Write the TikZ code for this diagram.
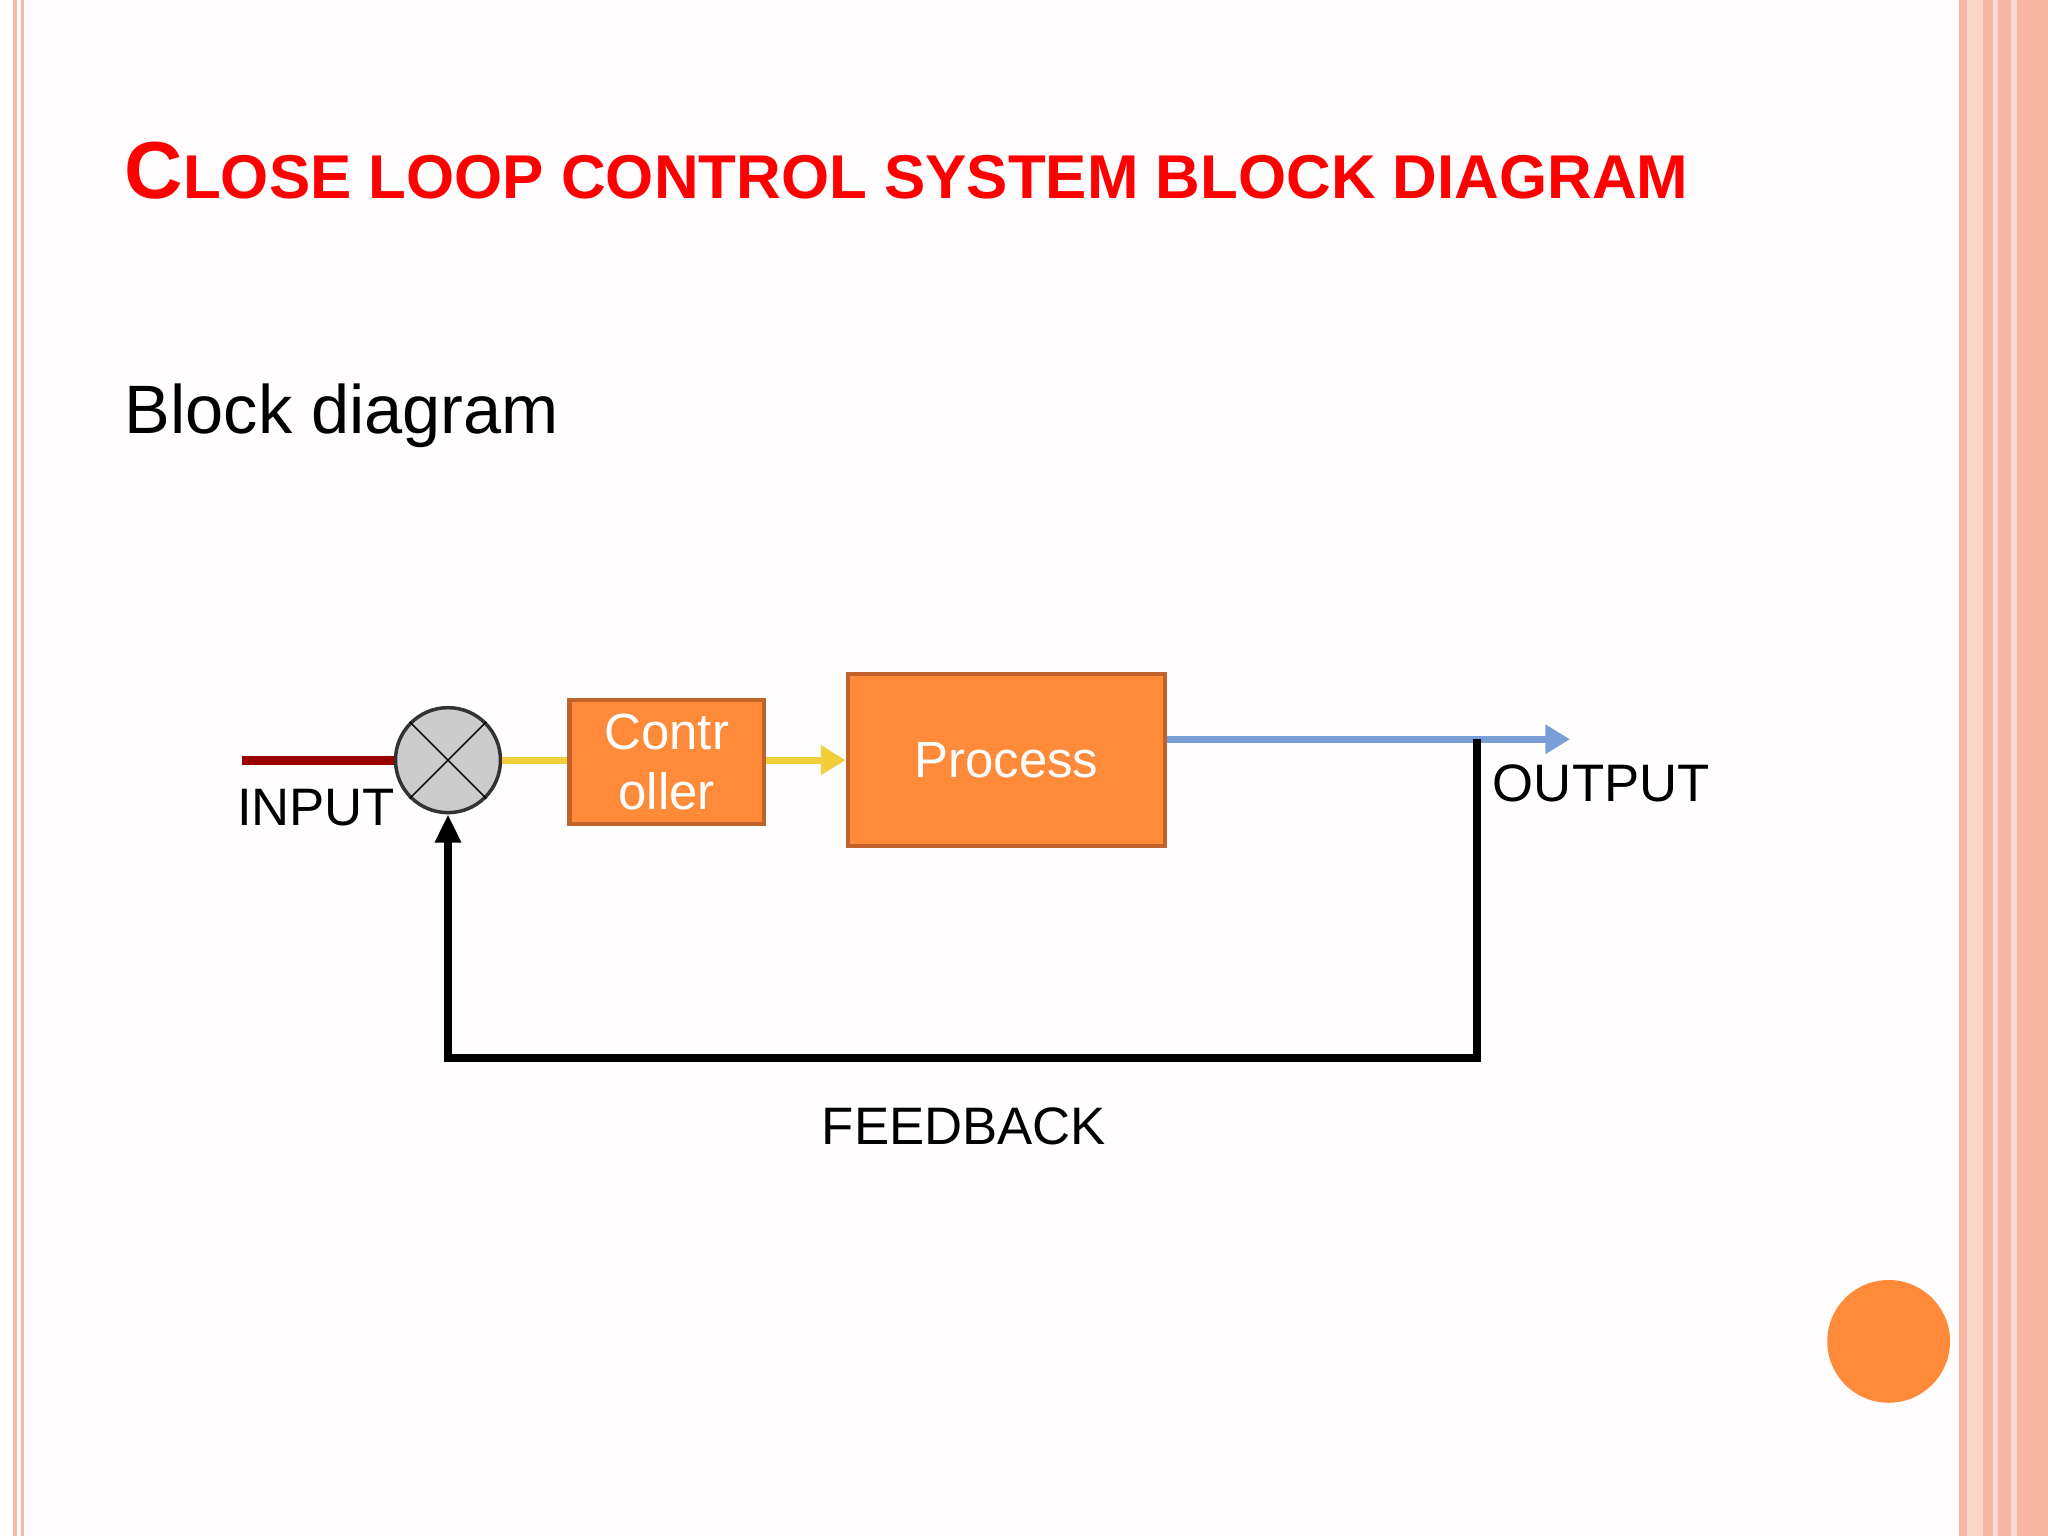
\documentclass[tikz,border=0pt]{standalone}
\usepackage{fontspec}
\setmainfont{Liberation Sans}
\usetikzlibrary{arrows.meta}
\definecolor{org}{HTML}{FF8A3A}
\definecolor{orgb}{HTML}{C0622A}
\definecolor{pinkl}{HTML}{F7B7A3}
\definecolor{bl}{HTML}{7A9ED8}
\definecolor{yl}{HTML}{F2CF3A}
\begin{document}
\begin{tikzpicture}[x=0.013061cm,y=-0.013061cm,
  blk/.style={draw=orgb,line width=1.2pt,fill=org,text=white,align=center,font=\fontsize{14.5}{17}\selectfont,inner sep=0pt},
  lbl/.style={font=\fontsize{15}{18}\selectfont}]
\useasboundingbox (0,0) rectangle (1568,1176);
\fill[white!97!pink] (0,0) rectangle (1568,1176);
\fill[pinkl] (10,0) rectangle (13,1176);
\fill[pinkl] (16,0) rectangle (18,1176);
\fill[pinkl] (1500,0) rectangle (1506,1176);
\fill[pinkl!60] (1506,0) rectangle (1518,1176);
\fill[pinkl] (1518,0) rectangle (1568,1176);
\fill[pinkl!50] (1526,0) rectangle (1530,1176);
\fill[pinkl!50] (1540,0) rectangle (1544,1176);
\node[anchor=base west,text=red,font=\bfseries,inner sep=0] (title) at (95,152)
 {{\fontsize{23}{26}\selectfont C}{\fontsize{17.6}{20}\selectfont LOSE LOOP CONTROL SYSTEM BLOCK DIAGRAM}};
\node[anchor=base west,inner sep=0,font=\fontsize{19.5}{22}\selectfont] (bd) at (95,332) {Block diagram};
\node[circle,draw=black!80,fill=gray!40,inner sep=0,line width=1pt,minimum size=1.05cm] (s) at (343,582) {};
\draw (s.45) -- (s.225) (s.135) -- (s.315);
\coordinate (in) at (185,582);
\draw[line width=2.5pt,color=red!60!black] (in) -- (s.west);
\node[blk,minimum width=149*0.013061cm,minimum height=95*0.013061cm] (c) at (510.5,583.5) {Contr\\oller};
\node[blk,minimum width=243*0.013061cm,minimum height=132*0.013061cm] (p) at (770.5,582) {Process};
\draw[line width=2pt,color=yl] (s.east) -- (s.east -| c.west);
\draw[line width=2pt,color=yl,-{Triangle[length=7pt,width=8pt]}] (s.east -| c.east) -- (s.east -| p.west);
\coordinate (o) at (1202,566);
\draw[line width=2pt,color=bl,-{Triangle[length=7pt,width=8pt]}] (p.east |- o) -- (o);
\coordinate (t) at (1131,566);
\coordinate (b1) at (1131,810);
\coordinate (b2) at (343,810);
\draw[line width=2.3pt,-{Triangle[length=8pt,width=7pt]}] (t) -- (b1) -- (b2) -- (s.south);
\node[lbl] (il) at (242,618) {INPUT};
\node[lbl] (ol) at (1226,600) {OUTPUT};
\node[lbl] (fl) at (738,862) {FEEDBACK};
\fill[org] (1446,1027) circle (47);
\end{tikzpicture}
\end{document}
